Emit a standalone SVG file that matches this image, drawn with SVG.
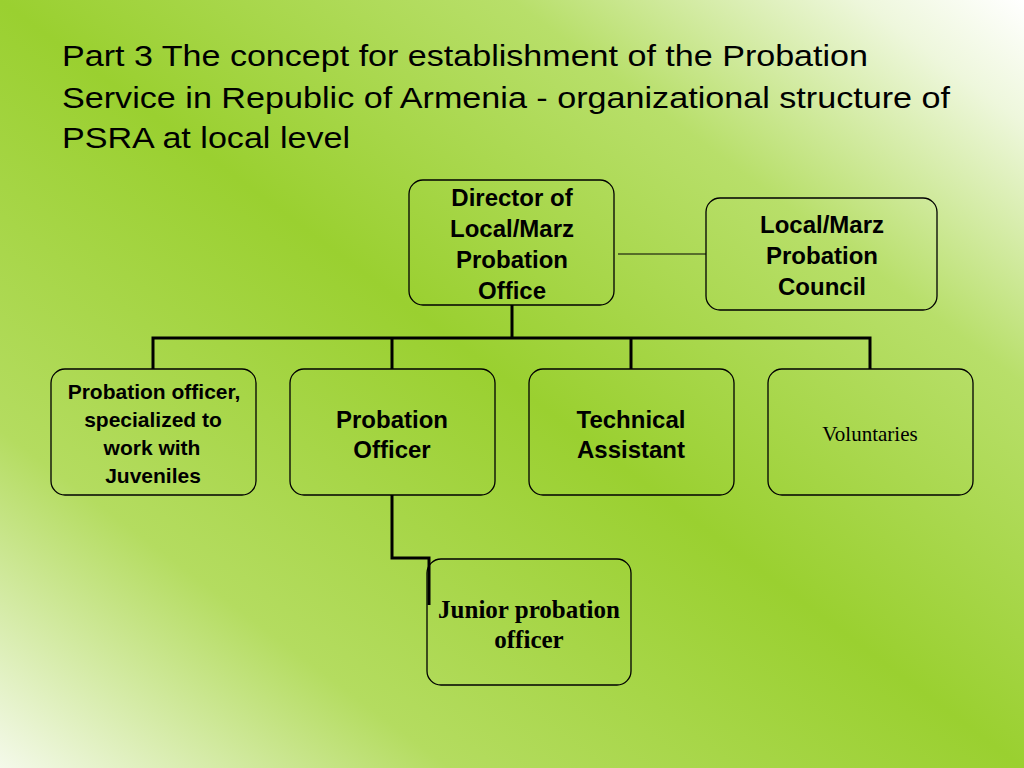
<svg xmlns="http://www.w3.org/2000/svg" width="1024" height="768" viewBox="0 0 1024 768">
<defs>
<linearGradient id="bg" x1="0" y1="1" x2="1" y2="0">
<stop offset="0" stop-color="#f4f9ea"/>
<stop offset="0.22" stop-color="#b4dc60"/>
<stop offset="0.5" stop-color="#9ad030"/>
<stop offset="0.75" stop-color="#b8df6a"/>
<stop offset="0.92" stop-color="#eef7dc"/>
<stop offset="1" stop-color="#ffffff"/>
</linearGradient>
<style>
.box{fill:none;stroke:#000;stroke-width:1.3}
.t{font-family:"Liberation Sans",Arial,sans-serif;font-weight:bold;font-size:24px;text-anchor:middle;fill:#000}
.s{font-family:"Liberation Sans",Arial,sans-serif;font-weight:bold;font-size:21px;text-anchor:middle;fill:#000}
.r{font-family:"Liberation Serif","Times New Roman",serif;text-anchor:middle;fill:#000}
.c{fill:none;stroke:#000;stroke-width:3}
</style>
</defs>
<rect width="1024" height="768" fill="url(#bg)"/>
<g font-family="Liberation Sans,Arial,sans-serif" font-size="30" fill="#000">
<text x="62" y="66" textLength="806" lengthAdjust="spacingAndGlyphs">Part 3 The concept for establishment of the Probation</text>
<text x="62" y="108" textLength="888" lengthAdjust="spacingAndGlyphs">Service in Republic of Armenia - organizational structure of</text>
<text x="62" y="148" textLength="288" lengthAdjust="spacingAndGlyphs">PSRA at local level</text>
</g>
<g id="connectors">
<path class="c" d="M512 305V338M153 369V338H870V369M392 338V369M631 338V369"/>
<path class="c" d="M392 495V558H429V605"/>
<line x1="618" y1="254" x2="706" y2="254" stroke="#000" stroke-width="1"/>
</g>
<g id="director"><rect class="box" x="409" y="180" width="205" height="125" rx="14"/>
<text class="t" x="512" y="206">Director of</text><text class="t" x="512" y="237">Local/Marz</text><text class="t" x="512" y="268">Probation</text><text class="t" x="512" y="299">Office</text></g>
<g id="council"><rect class="box" x="706" y="198" width="231" height="112" rx="14"/>
<text class="t" x="822" y="233">Local/Marz</text><text class="t" x="822" y="264">Probation</text><text class="t" x="822" y="295">Council</text></g>
<g id="juveniles"><rect class="box" x="51" y="369" width="205" height="126" rx="14"/>
<text class="s" x="154" y="399">Probation officer,</text><text class="s" x="153" y="427">specialized to</text><text class="s" x="152" y="455">work with</text><text class="s" x="153" y="483">Juveniles</text></g>
<g id="officer"><rect class="box" x="290" y="369" width="205" height="126" rx="14"/>
<text class="t" x="392" y="428">Probation</text><text class="t" x="392" y="458">Officer</text></g>
<g id="technical"><rect class="box" x="529" y="369" width="205" height="126" rx="14"/>
<text class="t" x="631" y="428">Technical</text><text class="t" x="631" y="458">Assistant</text></g>
<g id="voluntaries"><rect class="box" x="768" y="369" width="205" height="126" rx="14"/>
<text class="r" x="870" y="441" font-size="21">Voluntaries</text></g>
<g id="junior"><rect class="box" x="427" y="559" width="204" height="126" rx="14"/>
<text class="r" x="529" y="618" font-size="25" font-weight="bold">Junior probation</text><text class="r" x="529" y="648" font-size="25" font-weight="bold">officer</text></g>
</svg>
